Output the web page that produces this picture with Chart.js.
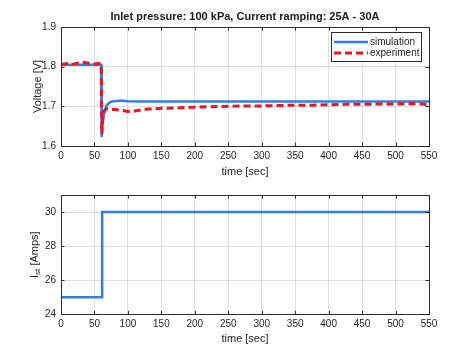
<!DOCTYPE html>
<html><head><meta charset="utf-8">
<script src="https://cdn.jsdelivr.net/npm/chart.js@4.4.0/dist/chart.umd.min.js"></script>
<style>
html,body{margin:0;padding:0;background:#fff;width:474px;height:355px;overflow:hidden;}
canvas{position:absolute;left:0;}
#c1{top:0;} #c2{top:180px;}
</style></head>
<body>
<canvas id="c1" width="474" height="180"></canvas>
<canvas id="c2" width="474" height="175"></canvas>
<script>
// ---- data ----
const simT = [0, 60, 60.5, 61, 62, 64, 66, 68, 70, 73, 76, 80, 85, 90, 100, 120, 150, 200, 300, 400, 550];
const simV = [1.805, 1.805, 1.72, 1.623, 1.655, 1.678, 1.692, 1.701, 1.706, 1.710, 1.712, 1.713, 1.714, 1.714, 1.713, 1.712, 1.712, 1.712, 1.712, 1.712, 1.712];
const expT = [0, 5, 10, 15, 20, 25, 30, 35, 40, 45, 50, 55, 60, 60.5, 61, 62, 63, 65, 68, 72, 80, 90, 100, 110, 120, 130, 150, 175, 200, 225, 250, 275, 300, 325, 350, 375, 400, 425, 450, 475, 500, 525, 540, 550];
const expV = [1.806, 1.807, 1.808, 1.806, 1.807, 1.809, 1.810, 1.811, 1.809, 1.808, 1.807, 1.808, 1.807, 1.75, 1.63, 1.66, 1.68, 1.69, 1.694, 1.692, 1.692, 1.690, 1.687, 1.688, 1.691, 1.693, 1.695, 1.696, 1.698, 1.699, 1.700, 1.701, 1.701, 1.702, 1.703, 1.703, 1.704, 1.705, 1.705, 1.706, 1.706, 1.707, 1.706, 1.704];
const curT = [0, 61.5, 61.5, 550];
const curV = [25, 25, 30, 30];
const xTicks = [0, 50, 100, 150, 200, 250, 300, 350, 400, 450, 500, 550];
const vTicks = [1.6, 1.7, 1.8, 1.9];
const iTicks = [24, 26, 28, 30];
const legendLabels = ['simulation', 'experiment'];
const titleText = 'Inlet pressure: 100 kPa, Current ramping: 25A - 30A';

const FONT = "'Liberation Sans', Arial, sans-serif";
const BLUE = '#2f7fe6';
const RED = '#e81620';
const pts = (t, v) => t.map((x, i) => ({x, y: v[i]}));

// box with inward ticks (MATLAB style)
const boxPlugin = {
  id: 'box',
  afterDatasetsDraw(chart) {
    const {ctx, chartArea: a, scales} = chart;
    ctx.save();
    ctx.strokeStyle = '#2b2b2b';
    ctx.lineWidth = 1;
    ctx.strokeRect(Math.round(a.left) + 0.5, Math.round(a.top) + 0.5, Math.round(a.right - a.left), Math.round(a.bottom - a.top));
    const L = 3.5;
    ctx.beginPath();
    scales.x.ticks.forEach(t => {
      const px = Math.round(scales.x.getPixelForValue(t.value)) + 0.5;
      ctx.moveTo(px, a.bottom); ctx.lineTo(px, a.bottom - L);
      ctx.moveTo(px, a.top); ctx.lineTo(px, a.top + L);
    });
    scales.y.ticks.forEach(t => {
      const py = Math.round(scales.y.getPixelForValue(t.value)) + 0.5;
      ctx.moveTo(a.left, py); ctx.lineTo(a.left + L, py);
      ctx.moveTo(a.right, py); ctx.lineTo(a.right - L, py);
    });
    ctx.stroke();
    ctx.restore();
  }
};

// title centred over the plot area (MATLAB style)
const titlePlugin = {
  id: 'mtitle',
  afterDraw(chart, args, opts) {
    if (!opts.text) return;
    const {ctx, chartArea: a} = chart;
    ctx.save();
    ctx.fillStyle = '#1a1a1a';
    ctx.font = 'bold 11px ' + FONT;
    ctx.textAlign = 'center';
    ctx.textBaseline = 'middle';
    ctx.fillText(opts.text, (a.left + a.right) / 2, opts.y);
    ctx.restore();
  }
};

const ylabelPlugin = {
  id: 'ylabel',
  afterDraw(chart, args, opts) {
    const {ctx, chartArea: a} = chart;
    ctx.save();
    ctx.fillStyle = '#262626';
    ctx.translate(opts.x, (a.top + a.bottom) / 2);
    ctx.rotate(-Math.PI / 2);
    ctx.textBaseline = 'middle';
    const main = '11px ' + FONT, sub = '8px ' + FONT;
    const parts = opts.parts;
    let w = 0;
    parts.forEach(p => { ctx.font = p.sub ? sub : main; w += ctx.measureText(p.t).width; });
    let x = -w / 2;
    parts.forEach(p => {
      ctx.font = p.sub ? sub : main;
      ctx.fillText(p.t, x, p.sub ? 3 : 0);
      x += ctx.measureText(p.t).width;
    });
    ctx.restore();
  }
};

const legendPlugin = {
  id: 'mlegend',
  afterDraw(chart) {
    const {ctx} = chart;
    ctx.save();
    ctx.fillStyle = '#fff';
    ctx.fillRect(331, 32, 90, 29);
    ctx.strokeStyle = '#2b2b2b';
    ctx.lineWidth = 1;
    ctx.strokeRect(331.5, 32.5, 90, 29);
    const rows = [42, 53];
    chart.data.datasets.forEach((ds) => {
      const y = rows[ds.legendRow];
      ctx.strokeStyle = ds.borderColor;
      ctx.lineWidth = ds.borderWidth;
      ctx.setLineDash(ds.borderDash || []);
      ctx.beginPath(); ctx.moveTo(334, y); ctx.lineTo(368, y); ctx.stroke();
      ctx.setLineDash([]);
      ctx.fillStyle = '#262626';
      ctx.font = '10px ' + FONT;
      ctx.textBaseline = 'middle';
      ctx.fillText(ds.label, 370, y);
    });
    ctx.restore();
  }
};

function xScale(h, titlePadBottom, tickPad) {
  return {
    type: 'linear', min: 0, max: 550,
    afterBuildTicks: s => { s.ticks = xTicks.map(v => ({value: v})); },
    afterFit: s => { s.height = h; },
    ticks: {font: {family: FONT, size: 10}, color: '#262626', padding: tickPad, maxRotation: 0, autoSkip: false},
    grid: {color: 'rgba(0,0,0,0.12)', drawTicks: false},
    border: {display: false},
    title: {display: true, text: 'time [sec]', color: '#262626', font: {family: FONT, size: 11}, padding: {top: 0, bottom: titlePadBottom}}
  };
}
function yScale(min, max, ticks, fmt) {
  return {
    type: 'linear', min, max,
    afterBuildTicks: s => { s.ticks = ticks.map(v => ({value: v})); },
    afterFit: s => { s.width = 61; },
    ticks: {font: {family: FONT, size: 10}, color: '#262626', padding: 5, callback: fmt},
    grid: {color: 'rgba(0,0,0,0.12)', drawTicks: false},
    border: {display: false}
  };
}

new Chart(document.getElementById('c1'), {
  type: 'line',
  data: {datasets: [
    {label: legendLabels[0], legendRow: 0, data: pts(simT, simV), borderColor: BLUE, borderWidth: 2.5, pointRadius: 0, tension: 0, order: 2},
    {label: legendLabels[1], legendRow: 1, data: pts(expT, expV), borderColor: RED, borderWidth: 3, borderDash: [7, 4], pointRadius: 0, tension: 0, order: 1}
  ]},
  options: {
    responsive: false, devicePixelRatio: 1, animation: false,
    layout: {padding: {left: 0, right: 45, top: 27, bottom: 0}},
    plugins: {
      legend: {display: false}, tooltip: {enabled: false}, title: {display: false},
      mtitle: {text: titleText, y: 17},
      ylabel: {x: 38, parts: [{t: 'Voltage [V]'}]}
    },
    scales: {x: xScale(34, 1.5, 4), y: yScale(1.6, 1.9, vTicks, v => v.toFixed(1))}
  },
  plugins: [boxPlugin, titlePlugin, ylabelPlugin, legendPlugin]
});

new Chart(document.getElementById('c2'), {
  type: 'line',
  data: {datasets: [
    {label: 'current', data: pts(curT, curV), borderColor: BLUE, borderWidth: 2.5, pointRadius: 0, tension: 0}
  ]},
  options: {
    responsive: false, devicePixelRatio: 1, animation: false,
    layout: {padding: {left: 0, right: 45, top: 15, bottom: 0}},
    plugins: {
      legend: {display: false}, tooltip: {enabled: false},
      ylabel: {x: 35, parts: [{t: 'I'}, {t: 'st', sub: true}, {t: ' [Amps]'}]}
    },
    scales: {x: xScale(40.7, 9.5, 4), y: yScale(24, 31, iTicks, v => String(v))}
  },
  plugins: [boxPlugin, ylabelPlugin]
});
</script>
</body></html>
